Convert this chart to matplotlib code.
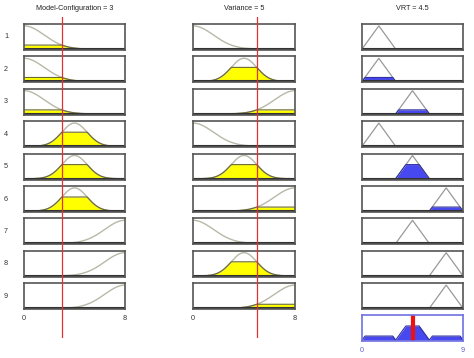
import numpy as np
import matplotlib
matplotlib.use("Agg")
import matplotlib.pyplot as plt

# fuzzy system
in1_name = "Model-Configuration"
in2_name = "Variance"
out_name = "VRT"
in1_value = 3
in2_value = 5
out_value = 4.5
in_range = [0, 8]
out_range = [0, 9]

# gaussian mfs for both inputs: (center, sigma)
in_mfs = [(0, 1.6), (4, 1.0), (8, 1.6)]
# triangular output mfs: (a, b, c)
out_mfs = [(0, 1.5, 3), (3, 4.5, 6), (6, 7.5, 9)]

# rules: index of mf for input1, input2, output
rule_in1 = [0, 0, 0, 1, 1, 1, 2, 2, 2]
rule_in2 = [0, 1, 2, 0, 1, 2, 0, 1, 2]
rule_out = [0, 0, 1, 0, 1, 2, 1, 2, 2]


def gauss(x, c, s):
    return np.exp(-(x - c) ** 2 / (2 * s ** 2))


def tri(x, a, b, c):
    return np.maximum(np.minimum((x - a) / (b - a), (c - x) / (c - b)), 0)


W, H = 474, 358
fig = plt.figure(figsize=(W / 100, H / 100), dpi=100)
plt.rcParams['font.family'] = ['Liberation Sans', 'DejaVu Sans']
fs = 5.2


def px_axes(x0, x1, top, bottom):
    return fig.add_axes([x0 / W, 1 - bottom / H, (x1 - x0) / W, (bottom - top) / H])


def style_box(ax, xr, edge):
    ax.set_xlim(xr)
    ax.set_ylim(-0.04, 1.08)
    ax.set_xticks([])
    ax.set_yticks([])
    for s in ax.spines.values():
        s.set_color(edge)
        s.set_linewidth(1.2)


cols = [(24, 125), (193, 295), (362, 463)]
row_top = 24
row_step = 32.4
row_h = 26
grey_edge = "#555555"
mf_line = "#b8b8a8"

xin = np.linspace(in_range[0], in_range[1], 400)
xout = np.linspace(out_range[0], out_range[1], 400)
agg = np.zeros_like(xout)

for r in range(9):
    top = row_top + r * row_step
    bot = top + row_h
    d1 = gauss(in1_value, *in_mfs[rule_in1[r]])
    d2 = gauss(in2_value, *in_mfs[rule_in2[r]])
    fire = min(d1, d2)
    for k, (idx, deg) in enumerate([(rule_in1[r], d1), (rule_in2[r], d2)]):
        ax = px_axes(cols[k][0], cols[k][1], top, bot)
        y = gauss(xin, *in_mfs[idx])
        ax.plot(xin, y, color=mf_line, lw=1)
        clip = np.minimum(y, deg)
        if deg > 0.02:
            ax.fill_between(xin, 0, clip, color="#ffff00", lw=0)
            ax.plot(xin, clip, color="#6a6a30", lw=0.8)
        ax.axhline(0, color="#333333", lw=1.5)
        style_box(ax, in_range, grey_edge)
    # output column
    ax = px_axes(cols[2][0], cols[2][1], top, bot)
    y = tri(xout, *out_mfs[rule_out[r]])
    ax.plot(xout, y, color="#999999", lw=0.9)
    clip = np.minimum(y, fire)
    agg = np.maximum(agg, clip)
    if fire > 0.02:
        ax.fill_between(xout, 0, clip, color="#4848f0", lw=0)
        ax.plot(xout, clip, color="#3030a0", lw=0.8)
    ax.axhline(0, color="#333333", lw=1.5)
    style_box(ax, out_range, grey_edge)
    fig.text(6 / W, 1 - (top + row_h / 2) / H, str(r + 1), fontsize=fs,
             ha="center", va="center", color="#333333")

# aggregated output
ax = px_axes(cols[2][0], cols[2][1], 315, 341)
ax.fill_between(xout, 0, agg, color="#4848f0", lw=0)
ax.plot(xout, agg, color="#3030a0", lw=0.8)
ax.axvline(out_value, ymin=0.05, ymax=0.95, color="#ee1111", lw=3)
style_box(ax, out_range, "#7070e0")

# red input lines across each input column
for k, val in enumerate([in1_value, in2_value]):
    ov = px_axes(cols[k][0], cols[k][1], 17, 338)
    ov.set_xlim(in_range)
    ov.axvline(val, color="#e03030", lw=0.9)
    ov.axis("off")

# titles and range labels
titles = ["%s = %g" % (in1_name, in1_value), "%s = %g" % (in2_name, in2_value),
          "%s = %g" % (out_name, out_value)]
for k, t in enumerate(titles):
    fig.text((cols[k][0] + cols[k][1]) / 2 / W, 1 - 8 / H, t, fontsize=fs,
             ha="center", va="center", color="#222222")
for k in range(2):
    fig.text(cols[k][0] / W, 1 - 318 / H, str(in_range[0]), fontsize=fs,
             ha="center", va="center", color="#333333")
    fig.text(cols[k][1] / W, 1 - 318 / H, str(in_range[1]), fontsize=fs,
             ha="center", va="center", color="#333333")
fig.text(cols[2][0] / W, 1 - 350 / H, str(out_range[0]), fontsize=fs,
         ha="center", va="center", color="#6060d0")
fig.text(cols[2][1] / W, 1 - 350 / H, str(out_range[1]), fontsize=fs,
         ha="center", va="center", color="#6060d0")

fig.savefig("out.png", dpi=100)
